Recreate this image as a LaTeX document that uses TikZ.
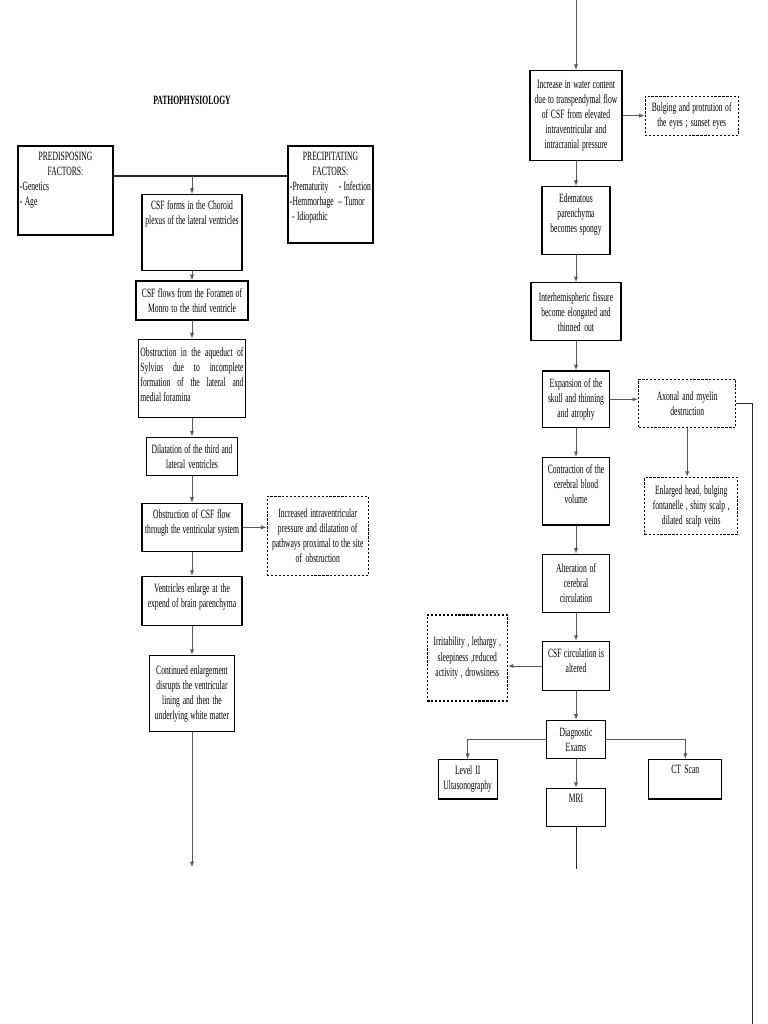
\documentclass[tikz,border=0pt]{standalone}
\usepackage{fontspec}
\setmainfont{Liberation Serif}[FakeStretch=0.6]
\hyphenpenalty=10000
\usetikzlibrary{arrows.meta, positioning}
\newcommand\listline[1]{\makebox[\linewidth][l]{#1}}
\newcommand\tightspace{\spaceskip=1.6pt plus 1pt minus 0.4pt\relax
  \xspaceskip=1.8pt plus 1pt\relax}

\begin{document}
\begin{tikzpicture}[
    x=0.025cm, y=-0.025cm, >={Latex[length=4pt, width=3pt]},
    font=\fontsize{9}{10.7}\selectfont,
    box/.style={draw, line width=0.9pt, align=center,
                inner xsep=0.05cm, inner ysep=0.1cm,
                execute at begin node=\tightspace},
    dbox/.style={box, line width=0.8pt, dash pattern=on 1.6pt off 1.2pt},
    link/.style={->, draw=black!65, line width=0.7pt},
    wire/.style={draw=black!85, line width=0.7pt}
  ]
  \path[use as bounding box, fill=white] (0,0) rectangle (768,1024);

  % left column
  \node[font=\fontsize{9}{10.7}\selectfont\bfseries] (title) at (192,100)
    {PATHOPHYSIOLOGY};
  \node[box, text width=2.275cm, minimum height=2.225cm, text depth=1.72cm]
    (pre) at (65.5,190.5)
    {PREDISPOSING\\FACTORS:\\\listline{-Genetics}\\\listline{- Age}};
  \node[box, text width=2.025cm, minimum height=2.425cm, text depth=1.92cm]
    (prec) at (330.5,194.5)
    {PRECIPITATING\\FACTORS:\\\listline{-Prematurity\hfill- Infection}\\
     \listline{-Hemmorhage \,– Tumor}\\\listline{\ - Idiopathic}};
  \coordinate (join) at (192,176);
  \node[box, text width=2.4cm, minimum height=1.9cm, text depth=1.4cm,
        below=0.45cm of join] (csf)
    {CSF forms in the Choroid\\plexus of the lateral ventricles};
  \node[box, text width=2.7cm, minimum height=0.975cm, below=0.225cm of csf]
    (flows) {CSF flows from the Foramen of\\Monro to the third ventricle};
  \node[box, text width=2.575cm, minimum height=1.95cm, text depth=1.3cm,
        align=justify, below=0.45cm of flows] (aque)
    {Obstruction in the aqueduct of\linebreak Sylvius due to
     incomplete\linebreak formation of the lateral and\linebreak
     medial foramina};
  \node[box, text width=2.175cm, minimum height=0.95cm, below=0.47cm of aque]
    (dila) {Dilatation of the third and\\lateral ventricles};
  \node[box, text width=2.4cm, minimum height=1.2cm, text depth=0.65cm,
        below=0.67cm of dila] (obst)
    {Obstruction of CSF flow\\through the ventricular system};
  \node[dbox, text width=2.425cm, minimum height=1.975cm,
        right=0.6cm of obst.north east, anchor=north west, yshift=0.175cm]
    (incr) {Increased intraventricular\\pressure and dilatation of\\
            pathways proximal to the site\\of obstruction};
  \node[box, text width=2.4cm, minimum height=1.22cm, text depth=0.65cm,
        below=0.6cm of obst] (vent)
    {Ventricles enlarge at the\\expend of brain parenchyma};
  \node[box, text width=2.025cm, minimum height=1.9cm, below=0.72cm of vent]
    (cont) {Continued enlargement\\disrupts the ventricular\\
            lining and then the\\underlying white matter};
  \coordinate[below=3.375cm of cont] (lend);

  % right column
  \coordinate (top) at (576,0);
  \node[box, text width=2.2cm, minimum height=2.25cm, below=1.75cm of top]
    (incw) {Increase in water content\\due to transpendymal flow\\
            of CSF from elevated\\intraventricular and\\intracranial pressure};
  \node[dbox, text width=2.225cm, minimum height=0.975cm,
        right=0.55cm of incw] (bulge)
    {Bulging and protrution of\\the eyes ; sunset eyes};
  \node[box, text width=1.6cm, minimum height=1.7cm, text depth=1.15cm,
        below=0.62cm of incw] (edem) {Edematous\\parenchyma\\becomes spongy};
  \node[box, text width=2.15cm, minimum height=1.45cm, below=0.67cm of edem]
    (inter) {Interhemispheric fissure\\become elongated and\\thinned out};
  \node[box, text width=1.575cm, minimum height=1.42cm, below=0.72cm of inter]
    (expa) {Expansion of the\\skull and thinning\\and atrophy};
  \node[dbox, text width=2.325cm, minimum height=1.2cm,
        right=0.7cm of expa, yshift=-0.1cm] (axon)
    {Axonal and myelin\\destruction};
  \node[dbox, text width=2.225cm, minimum height=1.43cm,
        below=1.225cm of axon, xshift=0.1cm] (enl)
    {Enlarged head, bulging\\fontanelle , shiny scalp ,\\dilated scalp veins};
  \node[box, text width=1.575cm, minimum height=1.68cm, text depth=1.12cm,
        below=0.72cm of expa] (vol)
    {Contraction of the\\cerebral blood\\volume};
  \node[box, text width=1.575cm, minimum height=1.45cm, below=0.7cm of vol]
    (alte) {Alteration of\\cerebral\\circulation};
  \node[box, text width=1.575cm, minimum height=1.22cm, text depth=0.65cm,
        below=0.7cm of alte] (circ) {CSF circulation is\\altered};
  \node[dbox, text width=1.9cm, minimum height=2.15cm,
        left=0.85cm of circ, yshift=0.2cm] (irri)
    {Irritability , lethargy ,\\sleepiness ,reduced\\activity , drowsiness};
  \node[box, text width=1.375cm, minimum height=0.95cm, below=0.72cm of circ]
    (diag) {Diagnostic\\Exams};
  \node[box, text width=1.375cm, minimum height=0.98cm,
        below left=0cm and 1.2cm of diag.south west] (lvl)
    {Level II\\Ultasonography};
  \node[box, text width=1.725cm, minimum height=0.98cm, text depth=0.48cm,
        below right=0cm and 1.05cm of diag.south east] (ct) {CT Scan};
  \node[box, text width=1.375cm, minimum height=0.95cm, text depth=0.45cm,
        below=0.72cm of diag] (mri) {MRI};
  \coordinate[below=1.05cm of mri] (mend);
  \coordinate (rend) at (752,1024);

  % connectors
  \draw[wire, line width=1.2pt] (pre.east |- join) -- (prec.west |- join);
  \draw[link] (join) -- (csf);
  \foreach \a/\b in {csf/flows, flows/aque, aque/dila, dila/obst, obst/vent,
                     vent/cont, cont/lend, top/incw, incw/edem, edem/inter,
                     inter/expa, expa/vol, vol/alte, alte/circ, circ/diag,
                     diag/mri}
    \draw[link] (\a) -- (\b);
  \draw[link] (obst.east) -- (obst.east -| incr.west);
  \draw[link] (incw.east) -- (incw.east -| bulge.west);
  \draw[link] (expa.east) -- (expa.east -| axon.west);
  \draw[link] (axon.south) -- (axon.south |- enl.north);
  \draw[link] (circ.west) -- (circ.west -| irri.east);
  \draw[link] (diag.west) -| (lvl.north);
  \draw[link] (diag.east) -| (ct.north);
  \draw[wire] (mri) -- (mend);
  \draw[wire] (axon.east) -| (rend);
\end{tikzpicture}
\end{document}
